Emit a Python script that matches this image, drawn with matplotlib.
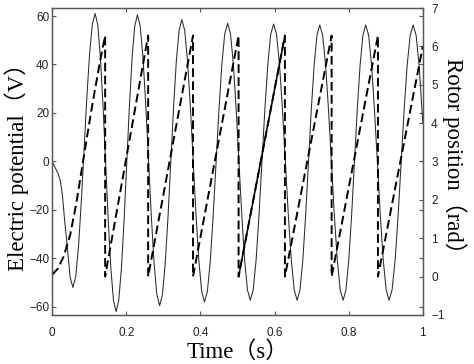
import numpy as np
import matplotlib.pyplot as plt

# Electric potential (V)
time_e = [0.0, 0.008, 0.016, 0.022, 0.0275, 0.0335, 0.041, 0.0485, 0.056,
          0.0635, 0.071, 0.0785, 0.086, 0.0935, 0.101, 0.1085, 0.116,
          0.1231, 0.1301, 0.1372, 0.1443, 0.1513, 0.1584, 0.1654, 0.1725,
          0.1797, 0.1869, 0.1941, 0.2013, 0.2084, 0.2156, 0.2228, 0.230,
          0.2375, 0.245, 0.2525, 0.260, 0.2675, 0.275, 0.2825, 0.290,
          0.2975, 0.305, 0.3125, 0.320, 0.3275, 0.335, 0.3425, 0.350,
          0.3576, 0.3653, 0.3729, 0.3805, 0.3881, 0.3958, 0.4034, 0.411,
          0.4188, 0.4266, 0.4344, 0.4423, 0.4501, 0.4579, 0.4657, 0.4735,
          0.4811, 0.4888, 0.4964, 0.5040, 0.5116, 0.5193, 0.5269, 0.5345,
          0.5424, 0.5503, 0.5581, 0.566, 0.5739, 0.5818, 0.5896, 0.5975,
          0.6054, 0.6134, 0.6213, 0.6293, 0.6372, 0.6451, 0.6531, 0.661,
          0.6686, 0.6763, 0.6839, 0.6915, 0.6991, 0.7068, 0.7144, 0.722,
          0.7299, 0.7378, 0.7456, 0.7535, 0.7614, 0.7693, 0.7771, 0.785,
          0.7926, 0.8003, 0.8079, 0.8155, 0.8231, 0.8308, 0.8384, 0.846,
          0.8539, 0.8618, 0.8696, 0.8775, 0.8854, 0.8933, 0.9011, 0.909,
          0.9171, 0.9253, 0.9334, 0.9415, 0.9496, 0.9578, 0.9659, 0.974,
          0.982, 0.990, 1.0]
emf = [0.0, -2.5, -5.0, -8.0, -13.5, -24.0, -35.4, -47.7, -52.0,
       -47.7, -35.4, -17.1, 4.5, 26.1, 44.4, 56.7, 61.0,
       56.3, 43.0, 23.1, -0.5, -24.1, -44.0, -57.3, -62.0,
       -57.3, -44.1, -24.2, -0.8, 22.7, 42.6, 55.8, 60.5,
       55.9, 42.9, 23.5, 0.5, -22.5, -41.9, -54.9, -59.5,
       -55.0, -42.2, -23.1, -0.5, 22.1, 41.2, 54.0, 58.5,
       54.1, 41.4, 22.6, 0.3, -22.1, -40.9, -53.6, -58.0,
       -53.6, -41.2, -22.5, -0.5, 21.5, 40.2, 52.6, 57.0,
       52.7, 40.3, 21.7, -0.2, -22.0, -40.6, -53.0, -57.3,
       -53.0, -40.6, -22.1, -0.3, 21.5, 40.0, 52.4, 56.7,
       52.4, 40.0, 21.5, -0.3, -22.1, -40.6, -53.0, -57.3,
       -53.0, -40.7, -22.3, -0.5, 21.3, 39.7, 52.0, 56.3,
       52.0, 39.7, 21.3, -0.5, -22.3, -40.7, -53.0, -57.3,
       -53.0, -40.7, -22.3, -0.5, 21.3, 39.7, 52.0, 56.3,
       52.0, 39.7, 21.3, -0.5, -22.3, -40.7, -53.0, -57.3,
       -53.0, -40.7, -22.3, -0.5, 21.3, 39.7, 52.0, 56.3,
       52.0, 39.7, 16.0]

# Rotor position (rad), dashed sawtooth
rotor_t = [0.0, 0.015, 0.031, 0.049, 0.066, 0.084, 0.107, 0.129, 0.143,
           0.143, 0.259, 0.259, 0.380, 0.380, 0.503, 0.503, 0.628,
           0.628, 0.754, 0.754, 0.879, 0.879, 1.0]
rotor_rad = [0.05, 0.2, 0.52, 1.1, 1.95, 3.04, 4.4, 5.6, 6.28,
             0.0, 6.28, 0.0, 6.28, 0.0, 6.28, 0.0, 6.28,
             0.0, 6.28, 0.0, 6.28, 0.0, 6.0]
# this one cycle shows up as a solid stroke in the original
solid_t = [0.503, 0.628]
solid_rad = [0.0, 6.28]

x_ticks = [0, 0.2, 0.4, 0.6, 0.8, 1]
x_labels = ["0", "0.2", "0.4", "0.6", "0.8", "1"]
left_ticks = [-60, -40, -20, 0, 20, 40, 60]
right_ticks = [-1, 0, 1, 2, 3, 4, 5, 6, 7]

label_font = ['Liberation Serif', 'Noto Sans CJK SC']
plt.rcParams['font.family'] = ['Liberation Sans', 'DejaVu Sans']

fig = plt.figure(figsize=(4.74, 3.64), dpi=100)
ax = fig.add_axes([0.110, 0.135, 0.782, 0.843])
ax2 = ax.twinx()

ax.plot(time_e, emf, color='#2a2a2a', lw=0.75)
ax2.plot(rotor_t, rotor_rad, color='black', lw=1.4, dashes=(4.5, 2.2))
ax2.plot(solid_t, solid_rad, color='black', lw=1.1)

ax.set_xlim(0, 1)
ax.set_ylim(-63.3, 63.3)
ax2.set_ylim(-1, 7)
ax.set_xticks(x_ticks)
ax.set_xticklabels(x_labels)
ax.set_yticks(left_ticks)
ax2.set_yticks(right_ticks)

ax.tick_params(axis='x', direction='in', top=True, length=3, pad=9,
               labelsize=8.5, colors='#222222', color='#555555')
ax.tick_params(axis='y', direction='in', right=True, length=3, pad=2,
               labelsize=8.5, colors='#222222', color='#555555')
ax2.tick_params(axis='y', direction='in', length=3, pad=6,
                labelsize=8.5, colors='#222222', color='#555555')
for a in (ax, ax2):
    for sp in a.spines.values():
        sp.set_color('#555555')
        sp.set_linewidth(0.9)

ax.set_xlabel("Time（s）", family=label_font, fontsize=16.5, labelpad=1)
ax.set_ylabel("Electric potential（V）", family=label_font, fontsize=16.5,
              labelpad=0)
ax2.set_ylabel("Rotor position（rad）", family=label_font, fontsize=16.5,
               rotation=270, labelpad=16)

plt.savefig('out.png', dpi=100)
